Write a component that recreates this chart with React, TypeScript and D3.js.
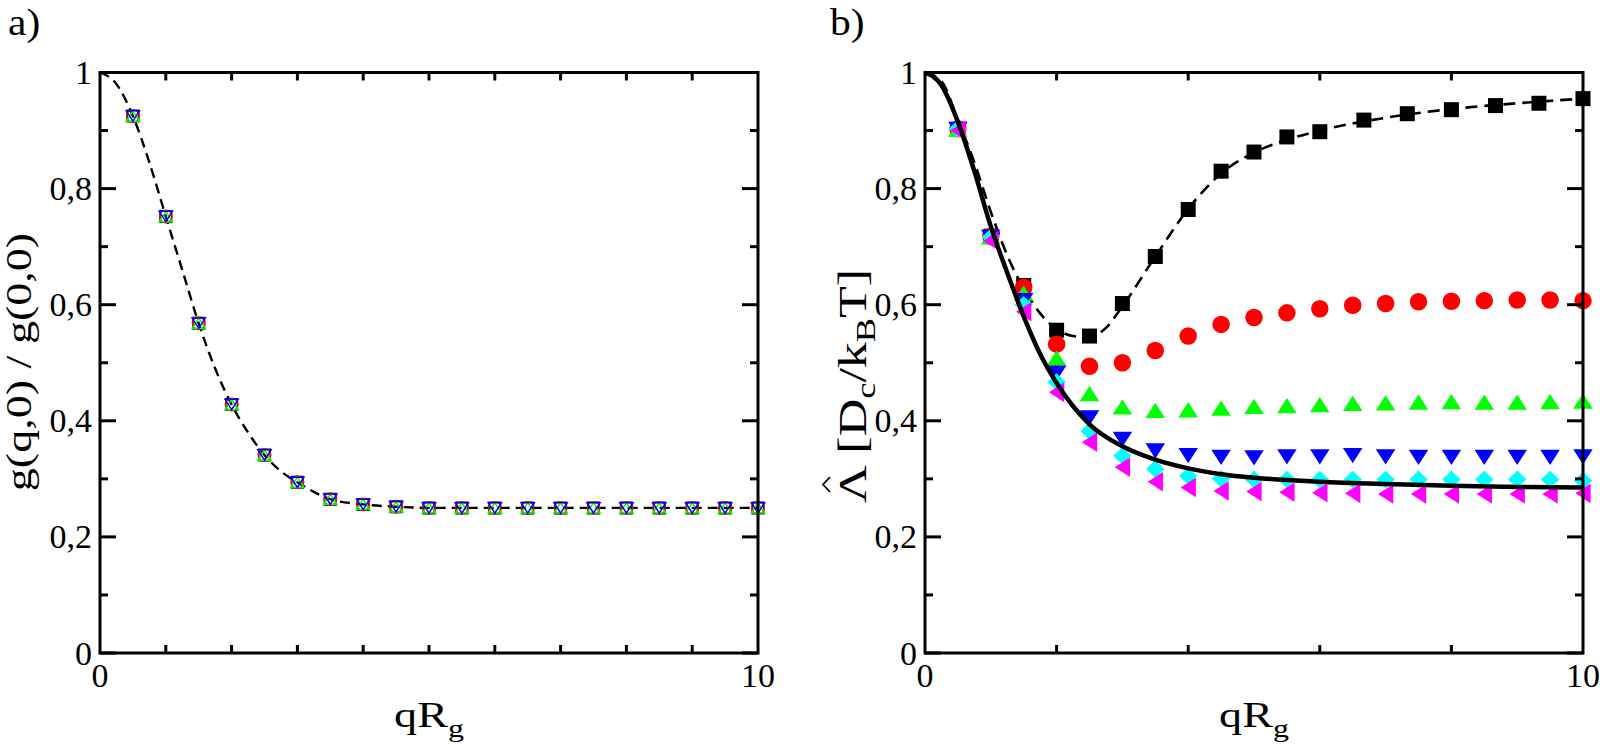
import React from 'react';
import * as d3 from 'd3';

// ---- panel a) : g(q,0)/g(0,0) ----
const gX = [0.5, 1, 1.5, 2, 2.5, 3, 3.5, 4, 4.5, 5, 5.5, 6, 6.5, 7, 7.5, 8, 8.5, 9, 9.5, 10];
const gValues = [0.925, 0.752, 0.568, 0.428, 0.341, 0.294, 0.265, 0.256, 0.252, 0.25, 0.25, 0.25, 0.25, 0.25, 0.25, 0.25, 0.25, 0.25, 0.25, 0.25];
const gCurveX = [0, 0.25, 0.5, 0.75, 1, 1.25, 1.5, 1.75, 2, 2.25, 2.5, 2.75, 3, 3.5, 4, 4.5, 5, 6, 7, 8, 9, 10];
const gCurveY = [1, 0.98, 0.925, 0.845, 0.752, 0.66, 0.568, 0.49, 0.428, 0.38, 0.341, 0.313, 0.294, 0.265, 0.256, 0.252, 0.25, 0.25, 0.25, 0.25, 0.25, 0.25];

// ---- panel b) : Lambda hat ----
const qX = [0.5, 1, 1.5, 2, 2.5, 3, 3.5, 4, 4.5, 5, 5.5, 6, 6.5, 7, 7.5, 8, 8.5, 9, 9.5, 10];
const squareX = [0.5, 1, 1.5, 2, 2.5, 3, 3.5, 4, 4.5, 5, 5.5, 6, 6.67, 7.33, 8, 8.67, 9.33, 10];
const squareY = [0.902, 0.718, 0.633, 0.556, 0.546, 0.602, 0.683, 0.764, 0.83, 0.863, 0.889, 0.898, 0.918, 0.929, 0.936, 0.943, 0.947, 0.955];
const circleY = [0.903, 0.718, 0.63, 0.532, 0.494, 0.5, 0.521, 0.546, 0.566, 0.578, 0.586, 0.593, 0.599, 0.602, 0.605, 0.606, 0.607, 0.608, 0.608, 0.607];
const triUpY = [0.902, 0.717, 0.62, 0.508, 0.447, 0.424, 0.418, 0.419, 0.422, 0.425, 0.426, 0.428, 0.43, 0.431, 0.432, 0.433, 0.432, 0.432, 0.433, 0.434];
const triDownY = [0.902, 0.716, 0.607, 0.482, 0.405, 0.368, 0.348, 0.34, 0.337, 0.336, 0.338, 0.338, 0.34, 0.338, 0.337, 0.337, 0.337, 0.337, 0.337, 0.338];
const diamondY = [0.903, 0.716, 0.6, 0.467, 0.382, 0.34, 0.317, 0.305, 0.3, 0.299, 0.299, 0.299, 0.299, 0.299, 0.299, 0.299, 0.299, 0.299, 0.299, 0.297];
const triLeftY = [0.9, 0.71, 0.588, 0.449, 0.363, 0.32, 0.295, 0.285, 0.279, 0.278, 0.277, 0.276, 0.275, 0.274, 0.274, 0.274, 0.274, 0.274, 0.274, 0.275];
const solidX = [0, 0.25, 0.5, 0.75, 1, 1.25, 1.5, 1.75, 2, 2.5, 3, 3.5, 4, 4.5, 5, 5.5, 6, 7, 8, 9, 10];
const solidY = [1, 0.978, 0.915, 0.83, 0.735, 0.655, 0.58, 0.515, 0.465, 0.394, 0.356, 0.333, 0.318, 0.308, 0.302, 0.298, 0.295, 0.291, 0.288, 0.286, 0.285];
const dashX = [0, 0.25, 0.5, 0.75, 1, 1.25, 1.5, 1.75, 2, 2.25, 2.5, 2.75, 3, 3.5, 4, 4.5, 5, 5.5, 6, 7, 8, 9, 10];
const dashY = [1, 0.985, 0.918, 0.845, 0.76, 0.685, 0.628, 0.585, 0.558, 0.546, 0.544, 0.56, 0.597, 0.683, 0.765, 0.826, 0.862, 0.884, 0.9, 0.922, 0.937, 0.947, 0.955];

// ticks
const yMajor = [0, 0.2, 0.4, 0.6, 0.8, 1];
const yMajorLabels = ['0', '0,2', '0,4', '0,6', '0,8', '1'];
const yMinor = [0.1, 0.3, 0.5, 0.7, 0.9];
const xLabels = ['0', '10'];

const FONT = "'Liberation Serif'";
const TOP = 72.5;
const BOTTOM = 653;

type Shape = 'square' | 'circle' | 'up' | 'down' | 'diamond' | 'left';

const shapePath = (shape: Shape, s: number): string => {
  const h = s / 2;
  switch (shape) {
    case 'square':
      return `M${-h},${-h}h${s}v${s}h${-s}Z`;
    case 'circle': {
      const p = d3.path();
      p.arc(0, 0, h, 0, 2 * Math.PI);
      p.closePath();
      return p.toString();
    }
    case 'up':
      return `M0,${-h * 0.9}L${h * 1.15},${h * 0.9}L${-h * 1.15},${h * 0.9}Z`;
    case 'down':
      return `M0,${h * 0.9}L${h * 1.15},${-h * 0.9}L${-h * 1.15},${-h * 0.9}Z`;
    case 'left':
      return `M${-h * 0.9},0L${h * 0.9},${-h * 1.15}L${h * 0.9},${h * 1.15}Z`;
    case 'diamond':
      return `M0,${-h}L${h * 1.05},0L0,${h}L${-h * 1.05},0Z`;
  }
};

interface AxesProps {
  x0: number;
  x1: number;
  minorStep: number;
  children: (x: d3.ScaleLinear<number, number>, y: d3.ScaleLinear<number, number>) => React.ReactNode;
}

const Axes: React.FC<AxesProps> = ({ x0, x1, minorStep, children }) => {
  const x = d3.scaleLinear().domain([0, 10]).range([x0, x1]);
  const y = d3.scaleLinear().domain([0, 1]).range([BOTTOM, TOP]);
  const xMinor = d3.range(minorStep, 10 - 1e-6, minorStep);
  return (
    <g>
      {children(x, y)}
      {/* minor x ticks, top and bottom */}
      {xMinor.map((v) => (
        <g key={'xm' + v} stroke="#000" strokeWidth={3}>
          <line x1={x(v)} x2={x(v)} y1={BOTTOM} y2={BOTTOM - 8} />
          <line x1={x(v)} x2={x(v)} y1={TOP} y2={TOP + 8} />
        </g>
      ))}
      {yMajor.map((v) => (
        <g key={'ym' + v} stroke="#000" strokeWidth={3}>
          <line x1={x0} x2={x0 + 16} y1={y(v)} y2={y(v)} />
          <line x1={x1} x2={x1 - 16} y1={y(v)} y2={y(v)} />
        </g>
      ))}
      {yMinor.map((v) => (
        <g key={'yn' + v} stroke="#000" strokeWidth={3}>
          <line x1={x0} x2={x0 + 8} y1={y(v)} y2={y(v)} />
          <line x1={x1} x2={x1 - 8} y1={y(v)} y2={y(v)} />
        </g>
      ))}
      <rect x={x0} y={TOP} width={x1 - x0} height={BOTTOM - TOP} fill="none" stroke="#000" strokeWidth={3} />
      {yMajor.map((v, i) => (
        <text key={'yl' + v} x={x0 - 8} y={y(v) + 11.5} textAnchor="end" fontSize={34} style={{ fontFamily: FONT }}>
          {yMajorLabels[i]}
        </text>
      ))}
      {[0, 10].map((v, i) => (
        <text key={'xl' + v} x={x(v)} y={687} textAnchor="middle" fontSize={34} style={{ fontFamily: FONT }}>
          {xLabels[i]}
        </text>
      ))}
      <text
        transform={`translate(${(x0 + x1) / 2},727) scale(1.28,1)`}
        textAnchor="middle"
        fontSize={36}
        style={{ fontFamily: FONT }}
      >
        qR<tspan fontSize={25} dy={10}>g</tspan>
      </text>
    </g>
  );
};

const App: React.FC = () => {
  const rightSeries: { xs: number[]; ys: number[]; color: string; shape: Shape; size: number }[] = [
    { xs: squareX, ys: squareY, color: '#000000', shape: 'square', size: 15 },
    { xs: qX, ys: circleY, color: '#ff0000', shape: 'circle', size: 17.5 },
    { xs: qX, ys: triUpY, color: '#00ff00', shape: 'up', size: 17 },
    { xs: qX, ys: triDownY, color: '#0000ff', shape: 'down', size: 17 },
    { xs: qX, ys: diamondY, color: '#00ffff', shape: 'diamond', size: 17.5 },
    { xs: qX, ys: triLeftY, color: '#ff00ff', shape: 'left', size: 17 },
  ];
  const leftMarkers: { color: string; shape: Shape; size: number }[] = [
    { color: '#000000', shape: 'square', size: 11.5 },
    { color: '#ff0000', shape: 'circle', size: 12.5 },
    { color: '#00ff00', shape: 'up', size: 11.5 },
    { color: '#0000ff', shape: 'down', size: 11.5 },
  ];

  return (
    <svg
      width={1600}
      height={751}
      viewBox="0 0 1600 751"
      style={{ position: 'absolute', left: 0, top: 0, background: '#fff' }}
    >
      <rect width={1600} height={751} fill="#fff" />

      {/* panel labels */}
      <text transform="translate(8,35) scale(1.12,1)" fontSize={37} style={{ fontFamily: FONT }}>a)</text>
      <text transform="translate(830,35) scale(1.12,1)" fontSize={37} style={{ fontFamily: FONT }}>b)</text>

      {/* y titles */}
      <text
        transform="translate(31,362) rotate(-90) scale(1.28,1)"
        textAnchor="middle"
        fontSize={36}
        style={{ fontFamily: FONT }}
      >
        g(q,0) / g(0,0)
      </text>
      <text
        transform="translate(866,503) rotate(-90) scale(1.3,1)"
        textAnchor="start"
        fontSize={40}
        style={{ fontFamily: FONT }}
      >
        {'Λ  [D'}
        <tspan fontSize={28} dy={9}>c</tspan>
        <tspan dy={-9}>/k</tspan>
        <tspan fontSize={28} dy={9}>B</tspan>
        <tspan dy={-9}>T]</tspan>
      </text>
      <path d="M830,477L823,484.5L830,492" fill="none" stroke="#000" strokeWidth={1.8} />

      <Axes x0={100} x1={758} minorStep={1}>
        {(x, y) => {
          const line = d3
            .line<number>()
            .curve(d3.curveMonotoneX)
            .x((_, i) => x(gCurveX[i]))
            .y((d) => y(d));
          return (
            <g>
              <path d={line(gCurveY) || ''} fill="none" stroke="#000" strokeWidth={2.4} strokeDasharray="10,6" />
              {leftMarkers.map((m) => (
                <g key={m.color}>
                  {gValues.map((v, i) => (
                    <path
                      key={i}
                      transform={`translate(${x(gX[i])},${y(v)})`}
                      d={shapePath(m.shape, m.size)}
                      fill="none"
                      stroke={m.color}
                      strokeWidth={1.5}
                    />
                  ))}
                </g>
              ))}
            </g>
          );
        }}
      </Axes>

      <Axes x0={925} x1={1583} minorStep={2}>
        {(x, y) => {
          const dash = d3
            .line<number>()
            .curve(d3.curveMonotoneX)
            .x((_, i) => x(dashX[i]))
            .y((d) => y(d));
          const solid = d3
            .line<number>()
            .curve(d3.curveMonotoneX)
            .x((_, i) => x(solidX[i]))
            .y((d) => y(d));
          return (
            <g>
              <path d={dash(dashY) || ''} fill="none" stroke="#000" strokeWidth={2.6} strokeDasharray="12,7" />
              {rightSeries.map((s) => (
                <g key={s.color}>
                  {s.ys.map((v, i) => (
                    <path
                      key={i}
                      transform={`translate(${x(s.xs[i])},${y(v)})`}
                      d={shapePath(s.shape, s.size)}
                      fill={s.color}
                    />
                  ))}
                </g>
              ))}
              <path d={solid(solidY) || ''} fill="none" stroke="#000" strokeWidth={4.5} />
            </g>
          );
        }}
      </Axes>
    </svg>
  );
};

export default App;
